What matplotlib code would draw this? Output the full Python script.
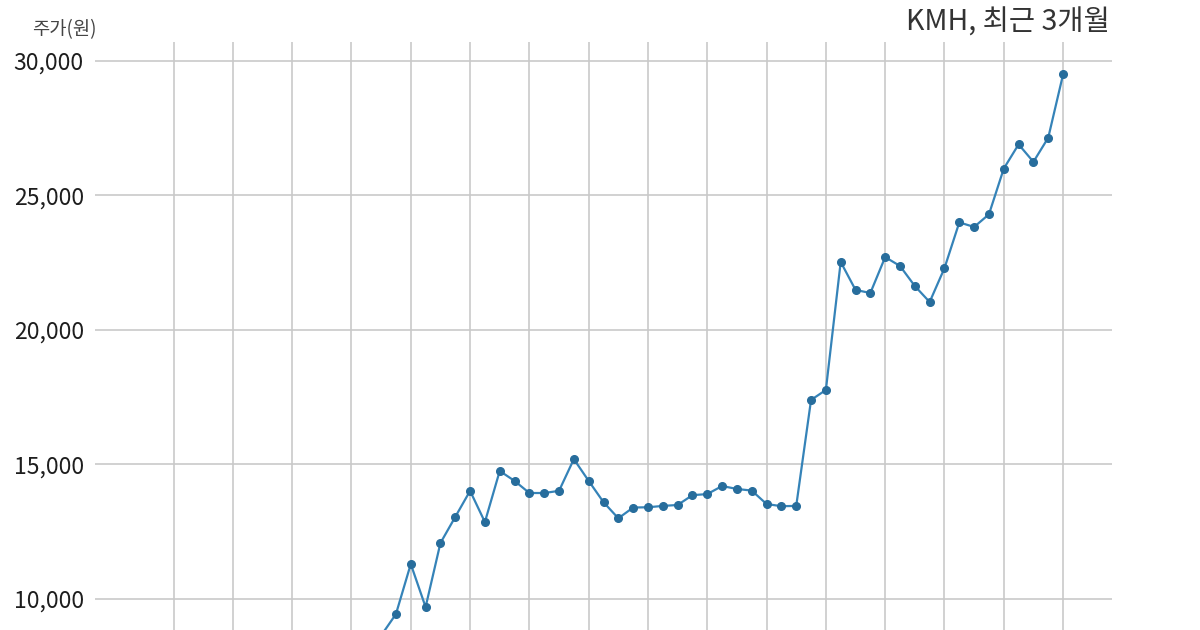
import matplotlib
matplotlib.use("Agg")
import matplotlib.pyplot as plt
from matplotlib.ticker import FuncFormatter

plt.rcParams['font.family'] = ['Noto Sans CJK KR', 'DejaVu Sans']

# Daily closing prices (KRW), last ~47 trading days visible in the reference
prices = [8640, 9440, 11300, 9700, 12080, 13050, 14020, 12860, 14760, 14390,
          13940, 13940, 14020, 15200, 14390, 13600, 13000, 13400, 13410, 13460,
          13495, 13860, 13900, 14200, 14090, 14030, 13530, 13450, 13460, 17400,
          17770, 22530, 21490, 21375, 22710, 22380, 21635, 21040, 22300, 24000,
          23830, 24300, 26000, 26900, 26250, 27150, 29500]
y_ticks = [10000, 15000, 20000, 25000, 30000]
y_label = "주가(원)"
title = "KMH, 최근 3개월"

n = len(prices)
idx = list(range(n))

fig = plt.figure(figsize=(12, 6.3), dpi=100)
# axes extends below the figure (the reference is cropped at the bottom)
ax = fig.add_axes([95/1200, 1 - 733.5/630, (1112-95)/1200, (733.5-42)/630])

ax.plot(idx, prices, color='#3583b8', lw=1.6, marker='o', ms=5.5,
        mfc='#276d9c', mec='#276d9c', zorder=3)

last = n - 1
ax.set_xlim(last - 65.3, last + 3.3)
ax.set_ylim(5000, 30706)
ax.set_yticks(y_ticks)
ax.yaxis.set_major_formatter(FuncFormatter(lambda v, p: f"{int(v):,}"))
ax.set_xticks([last - 4*k for k in range(16)])
ax.set_xticklabels([])

ax.grid(True, color='#c9c9c9', lw=1.2)
ax.set_axisbelow(True)
for s in ax.spines.values():
    s.set_visible(False)
ax.tick_params(axis='both', length=0)
ax.tick_params(axis='y', labelsize=16.5, labelcolor='#1e1e1e', pad=8)

fig.text(97/1200, 1 - 30/630, y_label, ha='right', va='center', fontsize=13.5, color='#444444')
fig.text(1110/1200, 1 - 23/630, title, ha='right', va='center', fontsize=20.5, color='#333333')

fig.savefig('out.png', dpi=100)
